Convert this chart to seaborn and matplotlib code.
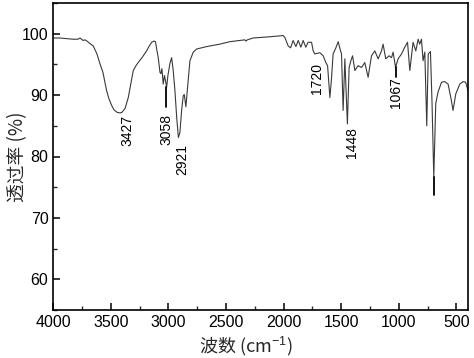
import matplotlib
matplotlib.use("Agg")
import matplotlib.pyplot as plt
from matplotlib.ticker import MultipleLocator
import seaborn as sns
import pandas as pd

wavenumber = [4000, 3942, 3881, 3829, 3786, 3768, 3742, 3725, 3708, 3682, 3653, 3621, 3595, 3569,
              3537, 3517, 3493, 3473, 3447, 3421, 3404, 3378, 3349, 3326, 3306, 3282, 3263, 3230,
              3190, 3170, 3146, 3126, 3113, 3100, 3089, 3074, 3066, 3057, 3046, 3035, 3027, 3016,
              3005, 2988, 2973, 2959, 2944, 2929, 2914, 2901, 2886, 2872, 2863, 2849, 2829, 2814,
              2785, 2756, 2669, 2554, 2467, 2380, 2337, 2328, 2315, 2265, 2120, 2005, 1990, 1961,
              1940, 1918, 1894, 1874, 1851, 1831, 1808, 1788, 1758, 1744, 1730, 1710, 1686, 1657,
              1634, 1619, 1599, 1586, 1571, 1547, 1527, 1512, 1498, 1484, 1469, 1447, 1432, 1417,
              1402, 1382, 1354, 1324, 1296, 1267, 1238, 1209, 1180, 1151, 1137, 1114, 1085, 1064,
              1050, 1029, 1007, 977, 949, 925, 905, 877, 853, 833, 819, 804, 790, 775, 758, 745,
              726, 712, 697, 680, 660, 630, 602, 573, 544, 530, 506, 471, 443, 420, 400]
transmittance = [99.3, 99.3, 99.2, 99.1, 99.1, 99.3, 98.9, 99.0, 98.8, 98.4, 98.0, 96.7, 95.1, 93.7,
                 90.7, 89.4, 88.3, 87.6, 87.2, 87.1, 87.2, 87.8, 89.6, 92.0, 94.0, 94.8, 95.3, 96.1,
                 97.2, 97.9, 98.6, 98.8, 98.7, 97.2, 96.1, 93.7, 93.5, 94.3, 91.8, 93.2, 92.4, 91.3,
                 93.2, 95.1, 96.1, 94.0, 90.7, 86.4, 83.1, 83.9, 87.5, 89.9, 90.1, 88.1, 92.4, 95.6,
                 97.0, 97.5, 97.9, 98.3, 98.7, 98.9, 99.0, 98.8, 99.0, 99.3, 99.5, 99.7, 99.4, 98.0,
                 97.7, 98.9, 97.9, 98.9, 97.8, 98.9, 97.8, 98.6, 98.6, 97.2, 96.7, 96.8, 96.9, 96.4,
                 95.3, 94.8, 89.6, 92.4, 96.7, 97.7, 98.7, 97.6, 96.7, 87.5, 95.9, 85.3, 94.5, 95.6,
                 96.4, 94.0, 94.8, 94.5, 95.3, 92.9, 96.4, 97.2, 95.9, 97.2, 98.3, 95.9, 96.4, 96.1,
                 97.0, 94.5, 95.9, 96.7, 97.8, 98.6, 94.0, 98.6, 97.2, 99.1, 98.3, 99.1, 95.6, 97.0,
                 85.0, 96.7, 97.1, 88.6, 76.6, 88.6, 90.5, 92.1, 92.2, 91.8, 89.1, 87.5, 90.2, 91.8,
                 92.2, 92.1, 90.7]

peak_labels = ["3427", "3058", "2921", "1720", "1448", "1067"]
label_wn = [3354, 3021, 2877, 1707, 1411, 1029]
label_top = [86.7, 87.0, 82.1, 95.3, 84.8, 93.0]

marker_wn = [3021, 1029, 697]
marker_from = [91.3, 94.5, 76.6]
marker_to = [88.0, 93.0, 73.7]

x_ticks = [4000, 3500, 3000, 2500, 2000, 1500, 1000, 500]
y_ticks = [60, 70, 80, 90, 100]

sns.set_style("ticks")
plt.rcParams["font.family"] = ["Liberation Sans", "Noto Sans CJK SC", "DejaVu Sans"]
plt.rcParams["mathtext.fontset"] = "custom"
plt.rcParams["mathtext.rm"] = "Liberation Sans"
plt.rcParams["mathtext.it"] = "Liberation Sans:italic"

fig = plt.figure(figsize=(4.74, 3.58), dpi=100)
ax = fig.add_axes([53.3 / 474, 1 - 310 / 358, (468 - 53.3) / 474, (310 - 3) / 358])

df = pd.DataFrame({"wn": wavenumber, "T": transmittance})
sns.lineplot(data=df, x="wn", y="T", ax=ax, sort=False, estimator=None,
             color="#3a3a3a", linewidth=0.8)

for wn, a, b in zip(marker_wn, marker_from, marker_to):
    ax.plot([wn, wn], [a, b], color="black", linewidth=1.3)

for lab, wn, top in zip(peak_labels, label_wn, label_top):
    ax.text(wn, top, lab, rotation=90, ha="center", va="top", fontsize=10,
            family=["Liberation Sans"], color="black")

ax.set_xlim(4000, 400)
ax.set_ylim(55, 105)
ax.set_xticks(x_ticks)
ax.set_yticks(y_ticks)
ax.xaxis.set_minor_locator(MultipleLocator(250))
ax.yaxis.set_minor_locator(MultipleLocator(5))
ax.tick_params(axis="both", which="major", direction="in", length=5, width=1.1,
               labelsize=11.5, top=False, right=False, colors="black")
ax.tick_params(axis="both", which="minor", direction="in", length=3, width=1.0,
               top=False, right=False)
for s in ax.spines.values():
    s.set_visible(True)
    s.set_linewidth(1.2)
    s.set_color("black")

ax.set_xlabel("波数 (cm$^{-1}$)", fontsize=13, family=["Noto Sans CJK SC", "Liberation Sans"])
ax.set_ylabel("透过率 (%)", fontsize=13.5, family=["Noto Sans CJK SC", "Liberation Sans"])
ax.xaxis.label.set_va("baseline")
ax.xaxis.set_label_coords(0.4635, -0.137)
ax.yaxis.set_label_coords(-0.06, 0.5)

fig.savefig("out.png", dpi=100)
